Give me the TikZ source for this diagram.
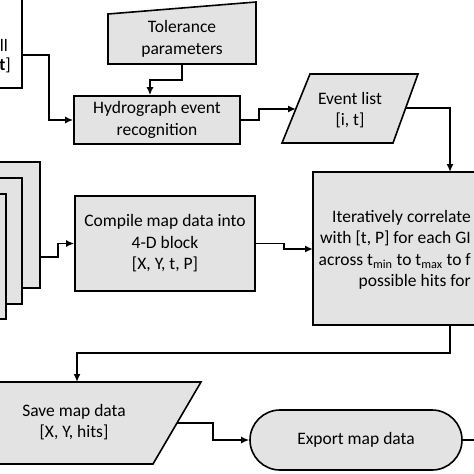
\documentclass[tikz,border=0pt]{standalone}
\usepackage{fontspec}
\setmainfont{Carlito}
\usetikzlibrary{arrows.meta}
\definecolor{boxgray}{gray}{0.89}
\begin{document}
\begin{tikzpicture}[x=1pt, y=-1pt,
    box/.style={draw, fill=boxgray, line width=1.6pt},
    txt/.style={align=center, font=\fontsize{17.5}{21.5}\selectfont, inner sep=0pt},
    flow/.style={-{Latex[length=8pt, width=7pt]}, line width=1.6pt}]
  \useasboundingbox (0,0) rectangle (474,474);
  \clip (0,0) rectangle (474,474);
  \draw[box] (-20,162) rectangle (40,288);
  \draw[box] (-20,178) rectangle (22,304);
  \draw[box] (-20,194) rectangle (6,319);
  \coordinate (maps) at (40,257);
  \draw[line width=1.6pt, fill=white] (-20,-10) rectangle (22,88);
  \node[txt, anchor=east] (rainA) at (8,45) {ll};
  \node[txt, anchor=east] (rainB) at (11,65) {\textbf{t}]};
  \coordinate (rain) at (22,55);
  \draw[box] (108,14) -- (256,2) -- (256,64) -- (108,64) -- cycle;
  \node[txt] (tol) at (182,39) {Tolerance\\parameters};
  \coordinate (tolout) at (182,64);
  \node[box, txt, minimum width=166pt, minimum height=48pt] (hydro) at (157,120) {Hydrograph event\\recognition};
  \draw[box] (310,74) -- (418,74) -- (393,143) -- (282,143) -- cycle;
  \node[txt] (event) at (350,110) {Event list\\{}[i, t]};
  \coordinate (eventin) at (296,109);
  \coordinate (eventout) at (405,108);
  \draw[box] (313,172) rectangle (490,325);
  \node[txt, align=right, anchor=east] (corr) at (471,250) {Iteratively correlate\\with [t, P] for each GI\\across t\textsubscript{min} to t\textsubscript{max} to f\\possible hits for};
  \coordinate (corrtop) at (450,172);
  \coordinate (corrin) at (313,249);
  \coordinate (corrout) at (450,325);
  \node[box, txt, minimum width=180pt, minimum height=95pt] (compile) at (165,243.5) {Compile map data into\\4-D block\\{}[X, Y, t, P]};
  \draw[box] (-20,382) -- (201,382) -- (153,464) -- (-20,464) -- cycle;
  \node[txt] (save) at (74,422) {Save map data\\{}[X, Y, hits]};
  \coordinate (savein) at (77,382);
  \coordinate (saveout) at (177,423);
  \node[box, txt, rounded corners=30pt, minimum width=212pt, minimum height=60pt] (export) at (356,440) {Export map data};
  \draw[line width=1.6pt] (export.east) -- ++(20,0);
  \draw[flow] (rain) -- ++(27,0) |- (hydro.west);
  \draw[flow] (tolout) -- ++(0,16) -| ([xshift=-7pt]hydro.north);
  \draw[flow] (hydro.east) -- ++(18,0) |- (eventin);
  \draw[flow] (eventout) -| (corrtop);
  \draw[flow] (maps) -- ++(18,0) |- (compile.west);
  \draw[flow] (compile.east) -- ++(28,0) |- (corrin);
  \draw[flow] (corrout) -- ++(0,28) -| (savein);
  \draw[flow] (saveout) -- ++(36,0) |- (export.west);
\end{tikzpicture}
\end{document}
